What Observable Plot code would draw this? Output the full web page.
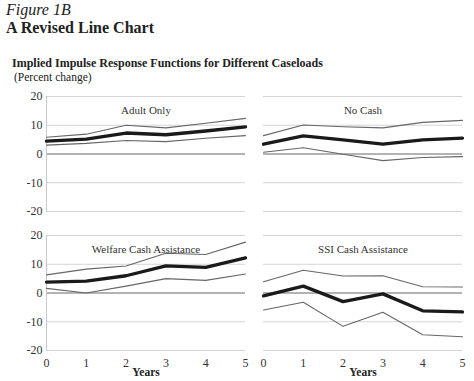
<!DOCTYPE html>
<html><head><meta charset="utf-8">
<script src="https://cdn.jsdelivr.net/npm/d3@7"></script>
<script src="https://cdn.jsdelivr.net/npm/@observablehq/plot@0.6"></script>
<style>
body{margin:0;background:#fff;font-family:"Liberation Serif","DejaVu Serif",serif;color:#222;}
#wrap{position:relative;width:474px;height:381px;}
.t{position:absolute;white-space:nowrap;}
#chart{position:absolute;left:0;top:88px;}
#chart svg, #chart svg text{font-family:"Liberation Serif","DejaVu Serif",serif !important;}
#chart svg g[aria-label^="x-axis"] text, #chart svg g[aria-label^="y-axis"] text{font-size:12px;fill:#333;}
</style></head><body>
<div id="wrap">
<div class="t" style="left:6px;top:1px;font-size:16px;font-style:italic;">Figure 1B</div>
<div class="t" style="left:6px;top:19px;font-size:16px;font-weight:bold;">A Revised Line Chart</div>
<div class="t" style="left:12px;top:56px;font-size:12px;font-weight:bold;">Implied Impulse Response Functions for Different Caseloads</div>
<div class="t" style="left:14px;top:71px;font-size:11.5px;">(Percent change)</div>
<div id="chart"></div>
</div>
<script>
const years = [0, 1, 2, 3, 4, 5];
const panels = ["Adult Only", "No Cash", "Welfare Cash Assistance", "SSI Cash Assistance"];
const panelCols = ["L", "R", "L", "R"];
const panelRows = ["T", "T", "B", "B"];
const yTicks = [-20, -10, 0, 10, 20];

const adultMain  = [4.5, 5.2, 7.3, 6.7, 8.0, 9.4];
const adultUpper = [5.8, 6.9, 10.0, 9.1, 10.7, 12.4];
const adultLower = [3.1, 3.7, 4.7, 4.3, 5.5, 6.4];

const noCashMain  = [3.4, 6.3, 4.9, 3.4, 4.9, 5.5];
const noCashUpper = [6.4, 10.1, 9.5, 9.1, 11.0, 11.7];
const noCashLower = [0.6, 2.2, -0.1, -2.3, -1.2, -0.9];

const welfareMain  = [3.8, 4.1, 6.0, 9.4, 8.9, 12.2];
const welfareUpper = [6.3, 8.3, 9.4, 13.8, 13.4, 17.7];
const welfareLower = [1.6, 0.0, 2.4, 5.0, 4.4, 6.6];

const ssiMain  = [-1.0, 2.4, -3.0, -0.3, -6.2, -6.6];
const ssiUpper = [3.9, 7.9, 5.9, 6.0, 2.2, 2.1];
const ssiLower = [-5.9, -3.2, -11.6, -6.7, -14.5, -15.2];

const series = [
  [adultMain, adultUpper, adultLower],
  [noCashMain, noCashUpper, noCashLower],
  [welfareMain, welfareUpper, welfareLower],
  [ssiMain, ssiUpper, ssiLower]
];
const kinds = ["main", "upper", "lower"];

const rows = [];
series.forEach((set, p) => set.forEach((vals, k) => vals.forEach((v, i) =>
  rows.push({panel: panels[p], col: panelCols[p], row: panelRows[p], kind: kinds[k], year: years[i], value: v}))));

const panelInfo = panels.map((name, p) => ({name, col: panelCols[p], row: panelRows[p]}));
const grid = [];
panelInfo.forEach(d => yTicks.forEach(t => grid.push({col: d.col, row: d.row, v: t})));
const serif = "Liberation Serif, DejaVu Serif, serif";

const chart = Plot.plot({
  width: 474, height: 293,
  marginLeft: 46, marginRight: 11, marginTop: 7, marginBottom: 30,
  style: "font-family: 'Liberation Serif', 'DejaVu Serif', serif; font-size: 12px; color: #333; background: white;",
  fx: {domain: ["L", "R"], axis: null, paddingInner: 0.0826, paddingOuter: 0},
  fy: {domain: ["T", "B"], axis: null, paddingInner: 0.1714, paddingOuter: 0},
  x: {domain: [0, 5], ticks: years, tickSize: 0, tickPadding: 8, label: null, tickFormat: d => String(d)},
  y: {domain: [-20, 20], ticks: yTicks, tickSize: 0, tickPadding: 4, label: null, tickFormat: d => String(d)},
  marks: [
    Plot.ruleY(grid.filter(d => d.v !== 0), {y: "v", fx: "col", fy: "row", stroke: "#d4d4d4", strokeWidth: 1.2}),
    Plot.ruleY(grid.filter(d => d.v === 0), {y: "v", fx: "col", fy: "row", stroke: "#9a9a9a", strokeWidth: 1.6}),
    Plot.ruleX(panelInfo.filter(d => d.col === "L"), {x: () => 0, fx: "col", fy: "row", stroke: "#c8c8c8", strokeWidth: 1}),
    Plot.line(rows.filter(d => d.kind !== "main"), {x: "year", y: "value", z: "kind", fx: "col", fy: "row", stroke: "#666", strokeWidth: 1.1}),
    Plot.line(rows.filter(d => d.kind === "main"), {x: "year", y: "value", fx: "col", fy: "row", stroke: "#1a1a1a", strokeWidth: 3.3}),
    Plot.text(panelInfo, {text: "name", fx: "col", fy: "row", frameAnchor: "top", dy: 10, fontSize: 11, fontFamily: serif, fill: "#333"}),
    Plot.text(panelInfo.filter(d => d.row === "B"), {text: () => "Years", fx: "col", fy: "row", frameAnchor: "bottom", dy: 25, fontSize: 11.5, fontFamily: serif, fontWeight: "bold", fill: "#222"})
  ]
});
document.getElementById("chart").appendChild(chart);
</script>
</body></html>
